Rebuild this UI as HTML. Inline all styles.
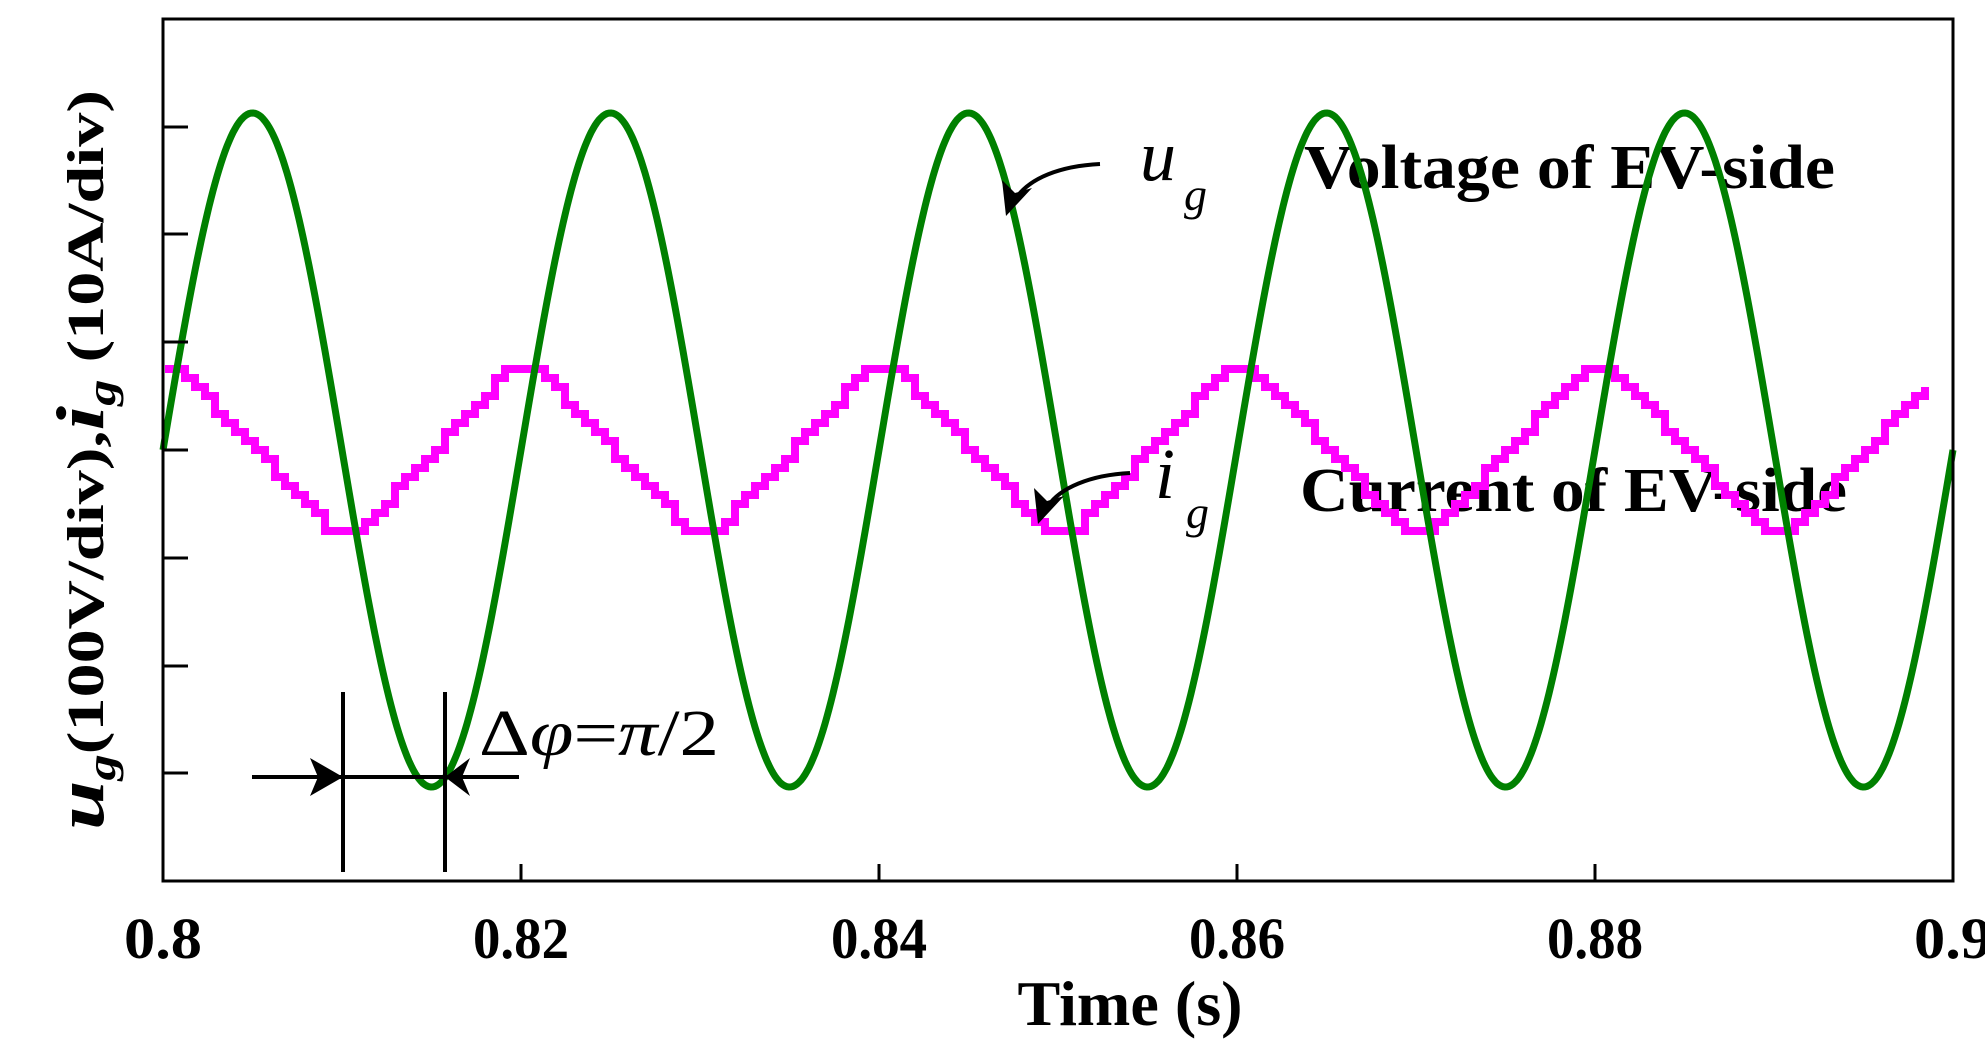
<!DOCTYPE html>
<html><head><meta charset="utf-8"><style>
html,body{margin:0;padding:0;background:#fff;}
svg{display:block;}
text{font-family:"Liberation Serif",serif;fill:#000;}
</style></head><body>
<svg id="s" width="1985" height="1043" viewBox="0 0 1985 1043" xmlns="http://www.w3.org/2000/svg">
<rect x="0" y="0" width="1985" height="1043" fill="#fff"/>
<g id="txt">
<text x="1304" y="188" font-size="62" font-weight="bold" textLength="531" lengthAdjust="spacingAndGlyphs">Voltage of  EV-side</text>
<text x="1300" y="511" font-size="62" font-weight="bold" textLength="547" lengthAdjust="spacingAndGlyphs">Current of  EV-side</text>
<text x="1140" y="180" font-size="72" font-style="italic">u</text>
<text x="1184" y="210" font-size="46" font-style="italic">g</text>
<text x="1155" y="498" font-size="72" font-style="italic">i</text>
<text x="1186" y="528" font-size="46" font-style="italic">g</text>
<text x="479" y="755" font-size="66" textLength="240" lengthAdjust="spacingAndGlyphs">Δ<tspan font-style="italic">φ</tspan>=<tspan font-style="italic">π</tspan>/2</text>
</g>
<g id="curves"></g>
<g stroke="#000" stroke-width="3" fill="none">
<rect x="163" y="19" width="1790" height="862"/>
</g>
<g id="ticks" stroke="#000" stroke-width="3"></g>
<g stroke="#000" stroke-width="4" fill="none">
<line x1="343" y1="692" x2="343" y2="872"/>
<line x1="445" y1="692" x2="445" y2="872"/>
<line x1="252" y1="777" x2="519" y2="777"/>
<path d="M1100,164 C1060,166 1030,178 1016,198"/>
<path d="M1130,473 C1090,475 1060,488 1048,506"/>
</g>
<g fill="#000">
<polygon points="343,777 310,758 318,777 310,796"/>
<polygon points="445,777 470,758 462,777 470,796"/>
<polygon points="1006,216 1002,180 1015,193 1032,188"/>
<polygon points="1038,524 1034,488 1047,501 1064,496"/>
</g>
<g font-weight="bold" font-size="58" text-anchor="middle">
<text x="163" y="958" textLength="78" lengthAdjust="spacingAndGlyphs">0.8</text>
<text x="521" y="958" textLength="96" lengthAdjust="spacingAndGlyphs">0.82</text>
<text x="879" y="958" textLength="96" lengthAdjust="spacingAndGlyphs">0.84</text>
<text x="1237" y="958" textLength="96" lengthAdjust="spacingAndGlyphs">0.86</text>
<text x="1595" y="958" textLength="96" lengthAdjust="spacingAndGlyphs">0.88</text>
<text x="1953" y="958" textLength="78" lengthAdjust="spacingAndGlyphs">0.9</text>
<text x="1130" y="1025" font-size="64" textLength="225" lengthAdjust="spacingAndGlyphs">Time (s)</text>
</g>
<text transform="translate(103,830) rotate(-90)" font-size="52" font-weight="bold" textLength="740" lengthAdjust="spacingAndGlyphs"><tspan font-style="italic" font-size="68">u</tspan><tspan font-style="italic" font-size="40" dy="12">g</tspan><tspan dy="-12">(100V/div),</tspan><tspan font-style="italic" font-size="68">i</tspan><tspan font-style="italic" font-size="40" dy="12">g</tspan><tspan dy="-12"> (10A/div)</tspan></text>
</svg>
<script>
(function(){
var x0=163,x1=1953,ns="http://www.w3.org/2000/svg";
function X(t){return x0+(t-0.8)/0.1*(x1-x0);}
var c=document.getElementById('curves');
var d="",first=true;
for(var px=x0+2;px<=1933;px+=10){
  var t=0.8+(px-x0)/(x1-x0)*0.1;
  var ph=2*Math.PI*(t-0.8)/0.02;
  var tri=(2/Math.PI)*Math.asin(Math.cos(ph));
  var v=Math.max(-1,Math.min(1,tri*1.18));
  var y=450-81*v; y=Math.round(y/9)*9;
  if(first){d+="M"+px+","+y;first=false;}
  else{d+="H"+px+"V"+y;}
}
var p=document.createElementNS(ns,'path');
p.setAttribute('d',d);p.setAttribute('fill','none');p.setAttribute('stroke','#ff00ff');p.setAttribute('stroke-width','8');
c.appendChild(p);
var g="";
for(var px=x0;px<=x1;px+=2){
  var t=0.8+(px-x0)/(x1-x0)*0.1;
  var y=450-337*Math.sin(2*Math.PI*(t-0.8)/0.02);
  g+=(px==x0?"M":"L")+px+","+y.toFixed(1);
}
var q=document.createElementNS(ns,'path');
q.setAttribute('d',g);q.setAttribute('fill','none');q.setAttribute('stroke','#008000');q.setAttribute('stroke-width','7');
c.appendChild(q);
var tk=document.getElementById('ticks');
var ys=[127,234,342,450,558,666,773];
ys.forEach(function(y){var l=document.createElementNS(ns,'line');l.setAttribute('x1',163);l.setAttribute('x2',188);l.setAttribute('y1',y);l.setAttribute('y2',y);tk.appendChild(l);});
for(var i=1;i<5;i++){var x=X(0.8+i*0.02);var l=document.createElementNS(ns,'line');l.setAttribute('x1',x);l.setAttribute('x2',x);l.setAttribute('y1',881);l.setAttribute('y2',864);tk.appendChild(l);}
})();
</script>
</body></html>
